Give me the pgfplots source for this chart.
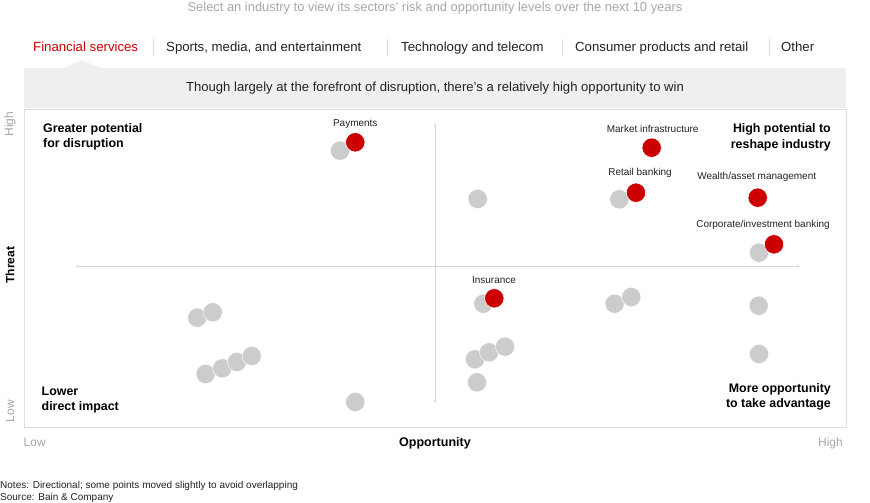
\documentclass[border=0pt]{standalone}
\usepackage{fontspec}
\setmainfont{Liberation Sans}
\usepackage{pgfplots}
\pgfplotsset{compat=1.18}
\usetikzlibrary{arrows.meta}
\definecolor{bred}{HTML}{CC0000}
\definecolor{bgray}{HTML}{CCCCCC}
\definecolor{band}{HTML}{EFEFEF}
\definecolor{framec}{HTML}{DDDDDD}
\definecolor{lgt}{HTML}{A8A8A8}
\definecolor{txt}{HTML}{222222}
\definecolor{cross}{HTML}{D6D6D6}

\pgfplotstableread{
x y
38.44 86.89
55.19 71.70
72.42 71.60
89.42 54.81
21.08 34.37
22.96 36.07
55.88 38.77
71.86 38.77
73.88 40.88
89.38 38.14
22.10 16.67
24.12 18.46
25.91 20.44
27.70 22.33
54.87 21.29
56.57 23.49
58.52 25.25
89.42 22.96
55.11 14.06
40.30 7.86
}\graydata

\pgfplotstableread{
x y
40.30 89.53
76.36 87.83
74.45 73.68
89.26 72.11
91.24 57.45
57.21 40.47
}\reddata

\begin{document}
\begin{tikzpicture}[x=1pt,y=1pt]
\useasboundingbox[fill=white] (0,0) rectangle (870,503);
% title
\node[anchor=base, text=lgt, font=\fontsize{12.9}{14}\selectfont, inner sep=0] at (435,491.5) {Select an industry to view its sectors' risk and opportunity levels over the next 10 years};
% tabs
\begin{scope}[every node/.style={anchor=base west, inner sep=0, font=\fontsize{13.2}{15}\selectfont, text=txt}]
\node[text=bred] at (33,451) {Financial services};
\node at (166,451) {Sports, media, and entertainment};
\node at (401,451) {Technology and telecom};
\node at (575,451) {Consumer products and retail};
\node at (781,451) {Other};
\end{scope}
\foreach \sx in {153,387,562,769} {\draw[framec, line width=0.6pt] (\sx,447) -- (\sx,464);}
% band
\fill[band] (24,395) rectangle (846,435);
\fill[band] (64,435) -- (82,443) -- (100,435) -- cycle;
\node[anchor=base, inner sep=0, text=txt, font=\fontsize{13.1}{14}\selectfont] at (435,411) {Though largely at the forefront of disruption, there's a relatively high opportunity to win};

\begin{axis}[at={(24pt,76pt)}, anchor=south west, width=822pt, height=318pt, scale only axis,
  xmin=0, xmax=100, ymin=0, ymax=100, xtick=\empty, ytick=\empty,
  axis line style={draw=framec, line width=0.9pt}, clip=false]
\draw[cross, line width=0.6pt, {Stealth[length=3pt,width=2.5pt]}-{Stealth[length=3pt,width=2.5pt]}] (axis cs:6.3,50.6) -- (axis cs:94.4,50.6);
\draw[cross, line width=0.6pt, {Stealth[length=3pt,width=2.5pt]}-{Stealth[length=3pt,width=2.5pt]}] (axis cs:50.0,95.6) -- (axis cs:50.0,7.5);
\addplot[only marks, mark=*, mark size=9.6pt, mark options={fill=bgray, draw=white, line width=0.4pt}] table[x=x,y=y] {\graydata};
\addplot[only marks, mark=*, mark size=9.7pt, mark options={fill=bred, draw=white, line width=0.6pt}] table[x=x,y=y] {\reddata};
\begin{scope}[every node/.style={inner sep=0, text=txt, font=\fontsize{10}{12}\selectfont}]
\node at (axis cs:40.30,95.28) {Payments};
\node at (axis cs:76.48,93.62) {Market infrastructure};
\node at (axis cs:74.94,79.97) {Retail banking};
\node at (axis cs:89.14,78.71) {Wealth/asset management};
\node at (axis cs:89.90,63.52) {Corporate/investment banking};
\node at (axis cs:57.18,46.23) {Insurance};
\end{scope}
\end{axis}

% quadrant labels
\begin{scope}[every node/.style={inner sep=0, text=black, font=\bfseries\fontsize{12.4}{15}\selectfont}]
\node[anchor=base west] at (43,370) {Greater potential};
\node[anchor=base west] at (43,355) {for disruption};
\node[anchor=base east] at (831,370) {High potential to};
\node[anchor=base east] at (831,354.5) {reshape industry};
\node[anchor=base west] at (41.5,107) {Lower};
\node[anchor=base west] at (41.5,92.5) {direct impact};
\node[anchor=base east] at (831,110.5) {More opportunity};
\node[anchor=base east] at (831,95.5) {to take advantage};
\end{scope}
% axis labels
\node[anchor=base west, inner sep=0, text=lgt, font=\fontsize{12}{14}\selectfont] at (23.5,56) {Low};
\node[anchor=base east, inner sep=0, text=lgt, font=\fontsize{12}{14}\selectfont] at (843,56) {High};
\node[anchor=base, inner sep=0, text=black, font=\bfseries\fontsize{12.5}{14}\selectfont] at (435,56) {Opportunity};
\node[rotate=90, inner sep=0, text=lgt, font=\fontsize{12}{14}\selectfont] at (10,379) {High};
\node[rotate=90, inner sep=0, text=black, font=\bfseries\fontsize{12}{14}\selectfont] at (10,238) {Threat};
\node[rotate=90, inner sep=0, text=lgt, font=\fontsize{12}{14}\selectfont] at (10,92) {Low};
% notes
\node[anchor=base west, inner sep=0, text=txt, font=\fontsize{10}{11}\selectfont] at (0,14) {Notes: Directional; some points moved slightly to avoid overlapping};
\node[anchor=base west, inner sep=0, text=txt, font=\fontsize{10}{11}\selectfont] at (0,2) {Source: Bain \& Company};
\end{tikzpicture}
\end{document}
